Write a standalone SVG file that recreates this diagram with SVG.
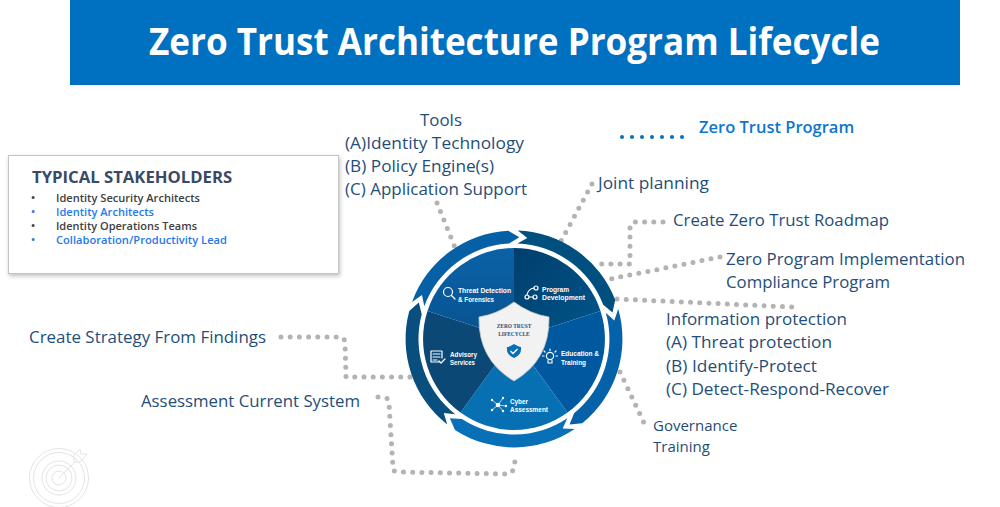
<svg xmlns="http://www.w3.org/2000/svg" width="1000" height="507" viewBox="0 0 1000 507">
<style>
text{font-family:"Open Sans","Liberation Sans",sans-serif}
.l{fill:#1f4e79;font-size:16.900px}
.d{fill:none;stroke:#b3b3b3;stroke-width:5;stroke-linecap:round;stroke-dasharray:0 9.2;stroke-linejoin:round}
.s{font-size:11px;font-weight:600}
.g{fill:#404040}.b{fill:#1f78f0}
.w{fill:#fff;font-size:7.400px;font-weight:700;font-family:"Liberation Sans",sans-serif}
.i{fill:none;stroke:#fff;stroke-width:1.200;stroke-linecap:round;stroke-linejoin:round}
.t{fill:none;stroke:#e4e4e4;stroke-width:1}
</style>
<defs>
<path id="arc" d="M3.800-108.400L13.300-101.100L3.400-95.400A95.500 95.500 0 0 1 89.200-34.200L98.500-26.400L101.200-38.900A108.400 108.400 0 0 0 3.800-108.400Z"/>
<filter id="sh" x="-5%" y="-10%" width="110%" height="120%"><feDropShadow dx="1" dy="2" stdDeviation="2" flood-color="#000" flood-opacity=".25"/></filter>
<linearGradient id="g1" x1="0" y1="0" x2="1" y2="1"><stop offset="0" stop-color="#003f6c"/><stop offset="1" stop-color="#00568c"/></linearGradient>
<linearGradient id="g2" x1="0" y1="0" x2="0" y2="1"><stop offset="0" stop-color="#0a62a8"/><stop offset="1" stop-color="#08528f"/></linearGradient>
</defs>
<g id="header"><rect x="70" y="0" width="890" height="85" fill="#0070c0"/>
<text x="149" y="55" font-size="38" font-weight="700" fill="#fff" textLength="731" lengthAdjust="spacingAndGlyphs">Zero Trust Architecture Program Lifecycle</text></g>

<g id="connectors">
<path class="d" d="M437 203L456 250"/>
<path class="d" d="M592 184L560 243"/>
<path class="d" d="M663 222H635Q630 222 630 227V264H593"/>
<path class="d" d="M720 257L610 279"/>
<path class="d" d="M617 299L792 307"/>
<path class="d" d="M620 372L645 425"/>
<path class="d" d="M281 337H340Q344 337 345 342L346 377H410"/>
<path class="d" d="M378 397L386 398Q389 399 389 403L393 468Q393 472 398 472L508 474Q514 474 515 460"/>
<path d="M622 137H692" fill="none" stroke="#0070c0" stroke-width="4" stroke-linecap="round" stroke-dasharray="0 10"/>
</g>

<g id="stakeholders"><rect x="8.500" y="155.500" width="330" height="118" fill="#fff" stroke="#c4c4c4" filter="url(#sh)"/>
<text x="32" y="183" font-size="16.700" font-weight="700" fill="#3a4a64">TYPICAL STAKEHOLDERS</text>
<text x="31" y="202" class="s g">•</text><text x="56" y="202" class="s g" textLength="144" lengthAdjust="spacingAndGlyphs">Identity Security Architects</text>
<text x="31" y="216" class="s b">•</text><text x="56" y="216" class="s b" textLength="98" lengthAdjust="spacingAndGlyphs">Identity Architects</text>
<text x="31" y="230" class="s g">•</text><text x="56" y="230" class="s g" textLength="141" lengthAdjust="spacingAndGlyphs">Identity Operations Teams</text>
<text x="31" y="244" class="s b">•</text><text x="56" y="244" class="s b" textLength="171" lengthAdjust="spacingAndGlyphs">Collaboration/Productivity Lead</text></g>

<g id="lifecycle">
<g transform="translate(514 339)">
<use href="#arc" fill="#00507f"/>
<use href="#arc" fill="#0562a8" transform="rotate(72)"/>
<use href="#arc" fill="#0770b7" transform="rotate(144)"/>
<use href="#arc" fill="#084f80" transform="rotate(216)"/>
<use href="#arc" fill="#0560a5" transform="rotate(288)"/>
<path d="M0 0V-91A91 91 0 0 1 86.500-28.100Z" fill="url(#g1)"/>
<path d="M0 0L86.500-28.100A91 91 0 0 1 53.500 73.600Z" fill="#00599f"/>
<path d="M0 0L53.500 73.600A91 91 0 0 1 -53.500 73.600Z" fill="#0770b3"/>
<path d="M0 0L-53.500 73.600A91 91 0 0 1 -86.500-28.100Z" fill="#0b4876"/>
<path d="M0 0L-86.500-28.100A91 91 0 0 1 0-91Z" fill="url(#g2)"/>
</g>
</g>
<g id="shield"><path d="M514 302Q530 314 549 317Q550 360 514 381Q478 360 479 317Q498 314 514 302Z" fill="#f2f2f2" stroke="#c8c8c8" stroke-width=".8"/>
<text x="514" y="328" text-anchor="middle" font-size="5.400" font-weight="700" fill="#1f4e79" style="font-family:'Liberation Serif',serif">ZERO TRUST</text>
<text x="514" y="336" text-anchor="middle" font-size="5.400" font-weight="700" fill="#1f4e79" style="font-family:'Liberation Serif',serif">LIFECYCLE</text>
<path d="M514 344Q519 347 521 347Q522 355 514 358Q506 355 507 347Q509 347 514 344Z" fill="#0b6fb5"/>
<path d="M510.500 351L513 353.500L517.500 349" fill="none" stroke="#fff" stroke-width="1.400"/></g>

<g id="threat"><circle cx="448" cy="292" r="4.500" class="i"/><path class="i" d="M451.500 295.500L455 299"/>
<text x="458" y="293" class="w" textLength="53" lengthAdjust="spacingAndGlyphs">Threat Detection</text><text x="458" y="301.500" class="w" textLength="36" lengthAdjust="spacingAndGlyphs">&amp; Forensics</text></g>
<g id="program"><circle cx="536" cy="288" r="2" class="i"/><circle cx="527" cy="297" r="2" class="i"/><circle cx="535" cy="297" r="2" class="i"/><path class="i" d="M534 288Q528 289 527 295M529 297H533"/>
<text x="542" y="291.500" class="w" textLength="27" lengthAdjust="spacingAndGlyphs">Program</text><text x="542" y="300" class="w" textLength="43" lengthAdjust="spacingAndGlyphs">Development</text></g>
<g id="education"><circle cx="550" cy="356" r="3.600" class="i"/><path class="i" d="M548 360.500V363H552V360.500M550 349V350.500M544 351L545 352M556 351L555 352M542.500 356H544M556 356H557.500"/>
<text x="561" y="356" class="w" textLength="38" lengthAdjust="spacingAndGlyphs">Education &amp;</text><text x="561" y="364.500" class="w" textLength="25" lengthAdjust="spacingAndGlyphs">Training</text></g>
<g id="cyber"><path d="M498 405L503 398M498 405L506 406M498 405L503 411M498 405L492 400M498 405L492 410" stroke="#fff" stroke-width=".7"/><circle cx="498" cy="405" r="2.300" fill="#fff"/>
<g fill="#fff"><circle cx="503" cy="398" r="1.200"/><circle cx="506" cy="406" r="1.200"/><circle cx="503" cy="411" r="1.200"/><circle cx="492" cy="400" r="1.200"/><circle cx="492" cy="410" r="1.200"/></g>
<text x="510" y="403.500" class="w" textLength="18" lengthAdjust="spacingAndGlyphs">Cyber</text><text x="510" y="412" class="w" textLength="38" lengthAdjust="spacingAndGlyphs">Assessment</text></g>
<g id="advisory"><path class="i" d="M440 362H431V351H442V358M433 354H440M433 357H440M433 360H437M439 361L441 363L445 359"/>
<text x="450" y="356.500" class="w" textLength="27" lengthAdjust="spacingAndGlyphs">Advisory</text><text x="450" y="365" class="w" textLength="25" lengthAdjust="spacingAndGlyphs">Services</text></g>

<g id="tools">
<text x="420" y="126" class="l">Tools</text>
<text x="345" y="149" class="l" textLength="179" lengthAdjust="spacingAndGlyphs">(A)Identity Technology</text>
<text x="345" y="172" class="l" textLength="149" lengthAdjust="spacingAndGlyphs">(B) Policy Engine(s)</text>
<text x="345" y="195" class="l" textLength="182" lengthAdjust="spacingAndGlyphs">(C) Application Support</text></g>
<g id="legend"><text x="699" y="133" font-size="16.500" font-weight="600" fill="#0b76d1">Zero Trust Program</text></g>
<g id="joint"><text x="598" y="189" class="l" textLength="111" lengthAdjust="spacingAndGlyphs">Joint planning</text></g>
<g id="roadmap"><text x="673" y="226" class="l" textLength="216" lengthAdjust="spacingAndGlyphs">Create Zero Trust Roadmap</text></g>
<g id="implementation"><text x="726" y="265" class="l" textLength="239" lengthAdjust="spacingAndGlyphs">Zero Program Implementation</text><text x="726" y="288" class="l" textLength="164" lengthAdjust="spacingAndGlyphs">Compliance Program</text></g>
<g id="information"><text x="666" y="325" class="l" textLength="181" lengthAdjust="spacingAndGlyphs">Information protection</text><text x="666" y="348" class="l" textLength="166" lengthAdjust="spacingAndGlyphs">(A) Threat protection</text><text x="666" y="372" class="l" textLength="151" lengthAdjust="spacingAndGlyphs">(B) Identify-Protect</text><text x="666" y="395" class="l" textLength="223" lengthAdjust="spacingAndGlyphs">(C) Detect-Respond-Recover</text></g>
<g id="governance"><text x="653" y="431" class="l" style="font-size:15px">Governance</text><text x="653" y="452" class="l" style="font-size:15px">Training</text></g>
<g id="strategy"><text x="29" y="343" class="l" textLength="237" lengthAdjust="spacingAndGlyphs">Create Strategy From Findings</text></g>
<g id="assessment"><text x="141" y="407" class="l" textLength="219" lengthAdjust="spacingAndGlyphs">Assessment Current System</text></g>

<g id="target"><circle cx="59" cy="478" r="29.500" class="t"/><circle cx="59" cy="478" r="25.500" class="t"/><circle cx="59" cy="478" r="17" class="t"/><circle cx="59" cy="478" r="13" class="t"/><circle cx="59" cy="478" r="7" class="t"/><path class="t" d="M59 478L75 462M75 462L73 456L80 449L81 454L87 454L80 462Z"/></g>
</svg>
